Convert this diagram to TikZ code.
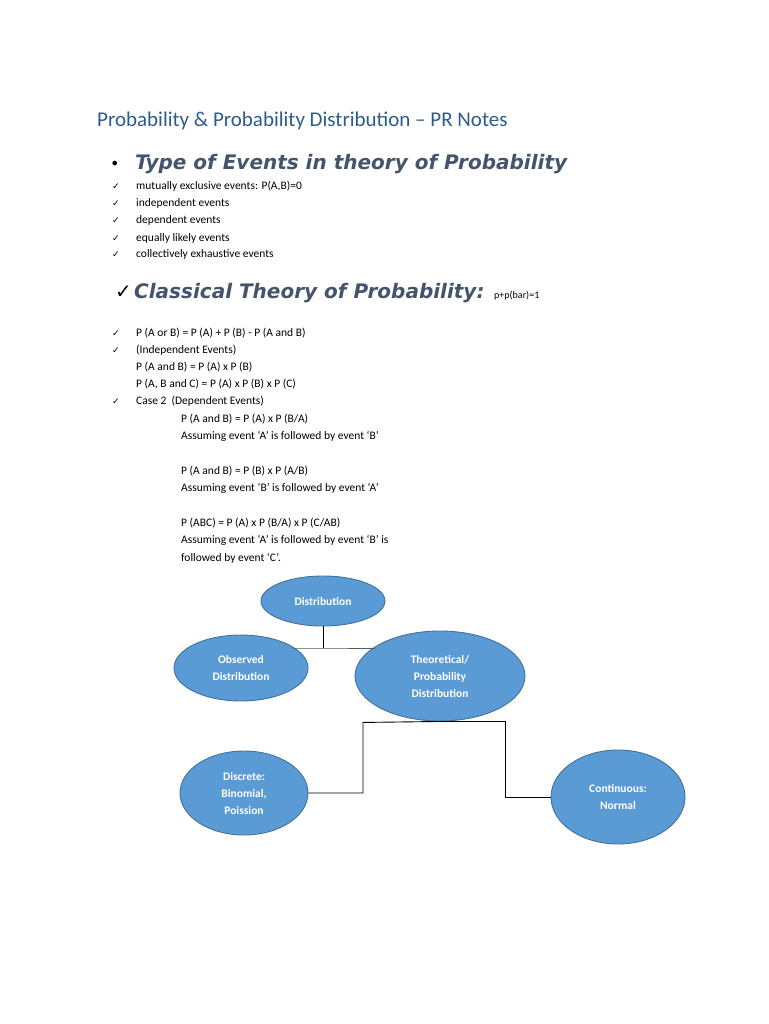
\documentclass[tikz,border=0pt]{standalone}
\usepackage{fontspec}
\setmainfont{Carlito}
\newfontfamily\headf{DejaVu Sans}
\newfontfamily\symf{DejaVu Sans}
\begin{document}
\begin{tikzpicture}[x=1pt,y=-1pt,
  tx/.style={anchor=base west,inner sep=0pt,font=\fontsize{11.5}{13}\selectfont},
  ck/.style={anchor=base west,inner sep=0pt,font=\symf\fontsize{9}{11}\selectfont},
  hd/.style={anchor=base west,inner sep=0pt,text=headc,font=\headf\bfseries\itshape\fontsize{20}{24}\selectfont},
  ell/.style={ellipse,draw=ellb,line width=0.9pt,fill=ellf,text=white,align=center,inner sep=0pt,font=\bfseries\fontsize{11.5}{17}\selectfont},
  ln/.style={draw=black,line width=0.9pt}]
\usetikzlibrary{shapes.geometric}
\definecolor{headc}{HTML}{44546A}
\definecolor{titc}{HTML}{2E5C8A}
\definecolor{ellf}{HTML}{5B9BD5}
\definecolor{ellb}{HTML}{41719C}
\useasboundingbox (0,0) rectangle (768,1024);
\node[anchor=base west,inner sep=0pt,text=titc,font=\fontsize{21}{24}\selectfont] (title) at (97,127) {Probability \& Probability Distribution – PR Notes};
\node[anchor=base west,inner sep=0pt,font=\symf\fontsize{16}{18}\selectfont] (b1) at (110,170) {•};
\node[hd] (h1) at (135,170) {Type of Events in theory of Probability};
\foreach \t [count=\i] in {mutually exclusive events: P(A\char44B)=0,independent events,dependent events,equally likely events,collectively exhaustive events}{
  \node[ck] (c\i) at (112,190+17*\i-17) {✓};
  \node[tx] (e\i) at (136,190+17*\i-17) {\t};
}
\node[anchor=base west,inner sep=0pt,font=\symf\fontsize{20}{24}\selectfont] (c6) at (115,298) {✓};
\node[hd] (h2) at (134,298) {Classical Theory of Probability:};
\node[tx,font=\fontsize{10}{12}\selectfont] (pp) at (494,298) {p+p(bar)=1};
\node[ck] (d1) at (112,336) {✓};
\node[tx] (l1) at (136,336) {P (A or B) = P (A) + P (B) - P (A and B)};
\node[ck] (d2) at (112,353) {✓};
\node[tx] (l2) at (136,353) {(Independent Events)};
\node[tx] (l3) at (136,370) {P (A and B) = P (A) x P (B)};
\node[tx] (l4) at (136,387) {P (A, B and C) = P (A) x P (B) x P (C)};
\node[ck] (d3) at (112,404) {✓};
\node[tx] (l5) at (136,404) {Case 2 \ (Dependent Events)};
\node[tx] (l6) at (181,422) {P (A and B) = P (A) x P (B/A)};
\node[tx] (l7) at (181,439) {Assuming event ‘A’ is followed by event ‘B’};
\node[tx] (l8) at (181,474) {P (A and B) = P (B) x P (A/B)};
\node[tx] (l9) at (181,491) {Assuming event ‘B’ is followed by event ‘A’};
\node[tx] (l10) at (181,526) {P (ABC) = P (A) x P (B/A) x P (C/AB)};
\node[tx] (l11) at (181,543) {Assuming event ‘A’ is followed by event ‘B’ is};
\node[tx] (l12) at (181,561) {followed by event ‘C’.};
% diagram
\node[ell,minimum width=124,minimum height=50] (dist) at (323,601) {Distribution};
\node[ell,minimum width=134,minimum height=66] (obs) at (241,668) {Observed\\Distribution};
\node[ell,minimum width=170,minimum height=90] (theo) at (440,676) {Theoretical/\\Probability\\Distribution};
\node[ell,minimum width=128,minimum height=84] (disc) at (244,793) {Discrete:\\Binomial,\\Poission};
\node[ell,minimum width=134,minimum height=94] (cont) at (618,797) {Continuous:\\Normal};
\coordinate (j1) at (323,648);
\begin{scope}[on background layer/.try]\end{scope}
\draw[ln] (dist.south) -- (j1);
\draw[draw=gray!70!black,line width=0.9pt] (obs.north east) ++(-10,0) coordinate (oa);
\draw[draw=gray!70!black,line width=0.9pt] (293,648) -- (j1) -- (375,648);
\draw[ln] (theo.south) -- ++(-77,1) |- (disc.east);
\draw[ln] (theo.south) -- ++(65,0) |- (cont.west);
\end{tikzpicture}
\end{document}
